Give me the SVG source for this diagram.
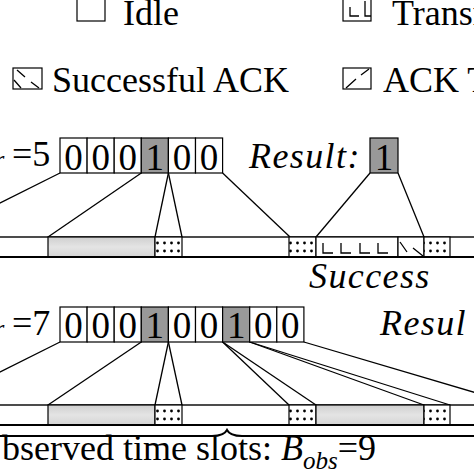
<svg xmlns="http://www.w3.org/2000/svg" width="474" height="474" viewBox="0 0 474 474">
<style>
.bx{fill:#fff;stroke:#000;stroke-width:1.2}
.gy{fill:#999;stroke:#000;stroke-width:1.2}
.t{font-family:"Liberation Serif","Times New Roman",serif;font-size:36px;fill:#000}
.it{font-style:italic;letter-spacing:1.4px}
.d{font-family:"Liberation Serif","Times New Roman",serif;font-size:37px;fill:#000;text-anchor:middle}
.ln{stroke:#000;stroke-width:1.3;fill:none}
.seg{stroke:#000;stroke-width:1.2}
.bar{fill:#fff;stroke:#000;stroke-width:1.4}
.gs{fill:url(#gg);stroke:#000;stroke-width:1.2}
.ds{fill:url(#dots);stroke:#000;stroke-width:1.2}
</style>
<defs>
<linearGradient id="gg" x1="0" y1="0" x2="0" y2="1">
<stop offset="0" stop-color="#cfcfcf"/>
<stop offset="0.5" stop-color="#e4e4e4"/>
<stop offset="1" stop-color="#d4d4d4"/>
</linearGradient>
<pattern id="dots" patternUnits="userSpaceOnUse" x="0" y="0" width="7" height="8">
<rect width="7" height="8" fill="#fff"/>
<circle cx="3.5" cy="3" r="1.4" fill="#000"/>
</pattern>
</defs>

<g id="legend">
<g id="leg-idle">
<rect class="bx" x="77" y="-1" width="28" height="22"/>
<text class="t" x="123" y="25">Idle</text>
</g>
<g id="leg-tx">
<rect class="bx" x="343" y="-1" width="28" height="22"/>
<path class="ln" d="M350 7 V16 H359 M365 1 V16 H371"/>
<text class="t" x="392" y="25">Transm</text>
</g>
<g id="leg-sack">
<rect class="bx" x="13" y="68" width="29" height="21"/>
<path class="ln" d="M17 70 L25 77 M31 82 L39 88 M14 80 L21 88"/>
<text class="t" x="52" y="92">Successful ACK</text>
</g>
<g id="leg-ackt">
<rect class="bx" x="343" y="68" width="28" height="21"/>
<path class="ln" d="M346 88 L356 79 M361 75 L369 69"/>
<text class="t" x="383" y="92">ACK T</text>
</g>
</g>

<g id="connectors">
<line class="ln" x1="60" y1="173" x2="-68" y2="237"/>
<line class="ln" x1="141.3" y1="173" x2="48" y2="237"/>
<line class="ln" x1="168.4" y1="173" x2="155" y2="237"/>
<line class="ln" x1="168.4" y1="173" x2="182" y2="237"/>
<line class="ln" x1="222.6" y1="173" x2="290" y2="237"/>
<line class="ln" x1="370" y1="173" x2="316" y2="237"/>
<line class="ln" x1="398" y1="173" x2="424" y2="237"/>
<line class="ln" x1="60" y1="342" x2="-68" y2="406"/>
<line class="ln" x1="141.3" y1="342" x2="48" y2="405"/>
<line class="ln" x1="168.4" y1="342" x2="155" y2="405"/>
<line class="ln" x1="168.4" y1="342" x2="182" y2="405"/>
<line class="ln" x1="222.6" y1="342" x2="289" y2="405"/>
<line class="ln" x1="222.6" y1="342" x2="316" y2="405"/>
<line class="ln" x1="249.7" y1="342" x2="424" y2="405"/>
<line class="ln" x1="249.7" y1="342" x2="450" y2="405"/>
<line class="ln" x1="303.9" y1="342" x2="517" y2="405"/>
</g>

<g id="row1-label">
<text class="t it" x="-5" y="167" style="font-size:24px">r</text>
<text class="t" x="12" y="166">=5</text>
</g>
<g id="row1-bits">
<rect class="bx" x="60" y="138" width="27.1" height="35"/><text class="d" x="73.55" y="170">0</text>
<rect class="bx" x="87.1" y="138" width="27.1" height="35"/><text class="d" x="100.65" y="170">0</text>
<rect class="bx" x="114.2" y="138" width="27.1" height="35"/><text class="d" x="127.75" y="170">0</text>
<rect class="gy" x="141.3" y="138" width="27.1" height="35"/><text class="d" x="154.85" y="170">1</text>
<rect class="bx" x="168.4" y="138" width="27.1" height="35"/><text class="d" x="181.95" y="170">0</text>
<rect class="bx" x="195.5" y="138" width="27.1" height="35"/><text class="d" x="209.05" y="170">0</text>
</g>
<g id="row1-result">
<text class="t it" x="249" y="168">Result:</text>
<rect class="gy" x="370" y="138" width="28" height="35"/><text class="d" x="384" y="170">1</text>
</g>

<g id="row1-timeline">
<rect class="bar" x="-5" y="237" width="485" height="20"/>
<rect class="gs" x="48" y="237" width="107" height="20"/>
<rect class="ds" x="155" y="237" width="27" height="20"/>
<rect class="ds" x="289" y="237" width="27" height="20"/>
<rect class="seg" fill="#fff" x="316" y="237" width="82" height="20"/>
<path class="ln" d="M323 243 V253 H333 M341 243 V253 H351 M360 243 V253 H370 M378 243 V253 H388"/>
<rect class="seg" fill="#fff" x="398" y="237" width="26" height="20"/>
<path class="ln" d="M400 242 L407 252 M413 248 L423 256"/>
<rect class="ds" x="424" y="237" width="26" height="20"/>
<line x1="-5" y1="257" x2="480" y2="257" stroke="#000" stroke-width="2"/>
</g>

<text class="t it" x="309" y="288">Success</text>

<g id="row2-label">
<text class="t it" x="-5" y="336" style="font-size:24px">r</text>
<text class="t" x="12" y="335">=7</text>
</g>
<g id="row2-bits">
<rect class="bx" x="60" y="307" width="27.1" height="35"/><text class="d" x="73.55" y="338">0</text>
<rect class="bx" x="87.1" y="307" width="27.1" height="35"/><text class="d" x="100.65" y="338">0</text>
<rect class="bx" x="114.2" y="307" width="27.1" height="35"/><text class="d" x="127.75" y="338">0</text>
<rect class="gy" x="141.3" y="307" width="27.1" height="35"/><text class="d" x="154.85" y="338">1</text>
<rect class="bx" x="168.4" y="307" width="27.1" height="35"/><text class="d" x="181.95" y="338">0</text>
<rect class="bx" x="195.5" y="307" width="27.1" height="35"/><text class="d" x="209.05" y="338">0</text>
<rect class="gy" x="222.6" y="307" width="27.1" height="35"/><text class="d" x="236.15" y="338">1</text>
<rect class="bx" x="249.7" y="307" width="27.1" height="35"/><text class="d" x="263.25" y="338">0</text>
<rect class="bx" x="276.8" y="307" width="27.1" height="35"/><text class="d" x="290.35" y="338">0</text>
</g>
<g id="row2-result">
<text class="t it" x="380" y="335">Resul</text>
</g>

<g id="row2-timeline">
<rect class="bar" x="-5" y="405" width="485" height="20"/>
<rect class="gs" x="48" y="405" width="107" height="20"/>
<rect class="ds" x="155" y="405" width="27" height="20"/>
<rect class="ds" x="289" y="405" width="27" height="20"/>
<rect class="gs" x="316" y="405" width="108" height="20"/>
<rect class="ds" x="424" y="405" width="26" height="20"/>
<line x1="-5" y1="425" x2="480" y2="425" stroke="#000" stroke-width="2"/>
</g>

<g id="observed">
<path d="M-10 436 H212 Q224 436 227 430 Q230 436 242 436 H484" fill="none" stroke="#000" stroke-width="2"/>
<text class="t" x="2" y="460">bserved time slots: <tspan font-style="italic">B</tspan><tspan font-style="italic" style="font-size:25px" dy="9">obs</tspan><tspan dy="-9">=9</tspan></text>
</g>
</svg>
